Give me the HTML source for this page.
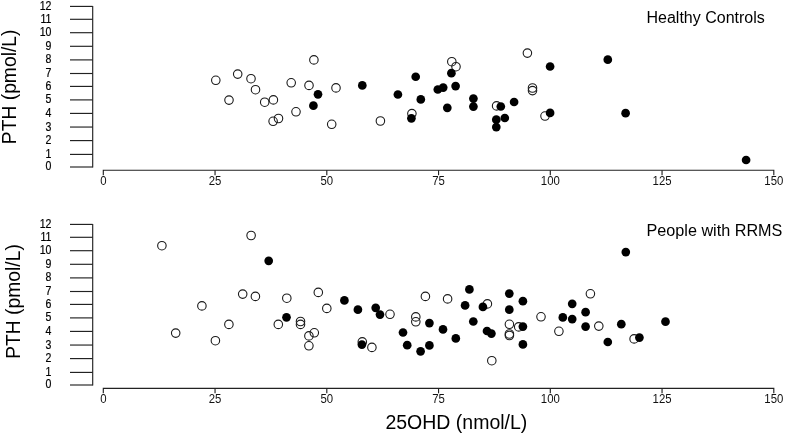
<!DOCTYPE html>
<html><head><meta charset="utf-8"><title>PTH vs 25OHD</title>
<style>
html,body{margin:0;padding:0;background:#fff;}
body{width:785px;height:435px;overflow:hidden;}
svg{display:block;font-family:"Liberation Sans",sans-serif;}
.ax path{stroke:#222;stroke-width:1.15;fill:none;}
.yl text{font-size:12px;fill:#000;stroke:#000;stroke-width:0.2;}
.xl text{font-size:12px;fill:#111;}
.op circle{fill:none;stroke:#1a1a1a;stroke-width:1.1;}
.fi circle{fill:#000;}
.ttl{font-size:16px;fill:#000;}
.axt{font-size:19.3px;fill:#000;}
</style></head><body>
<svg width="785" height="435" viewBox="0 0 785 435">
<rect width="785" height="435" fill="#fff"/>
<g class="ax">
<path d="M92.7 5.90V167.50" />
<path d="M70 167.00H92.7" />
<path d="M70 154.40H92.7" />
<path d="M70 140.60H92.7" />
<path d="M70 127.05H92.7" />
<path d="M70 113.40H92.7" />
<path d="M70 99.90H92.7" />
<path d="M70 86.40H92.7" />
<path d="M70 73.50H92.7" />
<path d="M70 59.90H92.7" />
<path d="M70 46.30H92.7" />
<path d="M70 32.70H92.7" />
<path d="M70 19.30H92.7" />
<path d="M70 6.40H92.7" />
<path d="M103.3 175.20V170.2H773.80V175.20" fill="none"/>
<path d="M215.05 170.2v5" />
<path d="M326.80 170.2v5" />
<path d="M438.55 170.2v5" />
<path d="M550.30 170.2v5" />
<path d="M662.05 170.2v5" />
<path d="M92.7 223.90V385.50" />
<path d="M70 385.00H92.7" />
<path d="M70 372.40H92.7" />
<path d="M70 358.60H92.7" />
<path d="M70 345.05H92.7" />
<path d="M70 331.40H92.7" />
<path d="M70 317.90H92.7" />
<path d="M70 304.40H92.7" />
<path d="M70 291.50H92.7" />
<path d="M70 277.90H92.7" />
<path d="M70 264.30H92.7" />
<path d="M70 250.70H92.7" />
<path d="M70 237.30H92.7" />
<path d="M70 224.40H92.7" />
<path d="M103.3 393.30V388.3H773.80V393.30" fill="none"/>
<path d="M215.05 388.3v5" />
<path d="M326.80 388.3v5" />
<path d="M438.55 388.3v5" />
<path d="M550.30 388.3v5" />
<path d="M662.05 388.3v5" />
</g>
<g class="yl">
<text transform="translate(51.5 170.45) scale(0.88 1)" text-anchor="end">0</text>
<text transform="translate(51.5 157.85) scale(0.88 1)" text-anchor="end">1</text>
<text transform="translate(51.5 144.05) scale(0.88 1)" text-anchor="end">2</text>
<text transform="translate(51.5 130.50) scale(0.88 1)" text-anchor="end">3</text>
<text transform="translate(51.5 116.85) scale(0.88 1)" text-anchor="end">4</text>
<text transform="translate(51.5 103.35) scale(0.88 1)" text-anchor="end">5</text>
<text transform="translate(51.5 89.85) scale(0.88 1)" text-anchor="end">6</text>
<text transform="translate(51.5 76.95) scale(0.88 1)" text-anchor="end">7</text>
<text transform="translate(51.5 63.35) scale(0.88 1)" text-anchor="end">8</text>
<text transform="translate(51.5 49.75) scale(0.88 1)" text-anchor="end">9</text>
<text transform="translate(51.5 36.15) scale(0.88 1)" text-anchor="end">10</text>
<text transform="translate(51.5 22.75) scale(0.88 1)" text-anchor="end">11</text>
<text transform="translate(51.5 9.85) scale(0.88 1)" text-anchor="end">12</text>
<text transform="translate(51.5 388.45) scale(0.88 1)" text-anchor="end">0</text>
<text transform="translate(51.5 375.85) scale(0.88 1)" text-anchor="end">1</text>
<text transform="translate(51.5 362.05) scale(0.88 1)" text-anchor="end">2</text>
<text transform="translate(51.5 348.50) scale(0.88 1)" text-anchor="end">3</text>
<text transform="translate(51.5 334.85) scale(0.88 1)" text-anchor="end">4</text>
<text transform="translate(51.5 321.35) scale(0.88 1)" text-anchor="end">5</text>
<text transform="translate(51.5 307.85) scale(0.88 1)" text-anchor="end">6</text>
<text transform="translate(51.5 294.95) scale(0.88 1)" text-anchor="end">7</text>
<text transform="translate(51.5 281.35) scale(0.88 1)" text-anchor="end">8</text>
<text transform="translate(51.5 267.75) scale(0.88 1)" text-anchor="end">9</text>
<text transform="translate(51.5 254.15) scale(0.88 1)" text-anchor="end">10</text>
<text transform="translate(51.5 240.75) scale(0.88 1)" text-anchor="end">11</text>
<text transform="translate(51.5 227.85) scale(0.88 1)" text-anchor="end">12</text>
</g>
<g class="xl">
<text transform="translate(103.30 184.80) scale(0.95 1)" text-anchor="middle">0</text>
<text transform="translate(215.05 184.80) scale(0.95 1)" text-anchor="middle">25</text>
<text transform="translate(326.80 184.80) scale(0.95 1)" text-anchor="middle">50</text>
<text transform="translate(438.55 184.80) scale(0.95 1)" text-anchor="middle">75</text>
<text transform="translate(550.30 184.80) scale(0.95 1)" text-anchor="middle">100</text>
<text transform="translate(662.05 184.80) scale(0.95 1)" text-anchor="middle">125</text>
<text transform="translate(773.80 184.80) scale(0.95 1)" text-anchor="middle">150</text>
<text transform="translate(103.30 402.90) scale(0.95 1)" text-anchor="middle">0</text>
<text transform="translate(215.05 402.90) scale(0.95 1)" text-anchor="middle">25</text>
<text transform="translate(326.80 402.90) scale(0.95 1)" text-anchor="middle">50</text>
<text transform="translate(438.55 402.90) scale(0.95 1)" text-anchor="middle">75</text>
<text transform="translate(550.30 402.90) scale(0.95 1)" text-anchor="middle">100</text>
<text transform="translate(662.05 402.90) scale(0.95 1)" text-anchor="middle">125</text>
<text transform="translate(773.80 402.90) scale(0.95 1)" text-anchor="middle">150</text>
</g>
<g class="op">
<circle cx="215.8" cy="80.3" r="4.25"/>
<circle cx="237.7" cy="74.1" r="4.25"/>
<circle cx="251" cy="78.7" r="4.25"/>
<circle cx="255.5" cy="89.7" r="4.25"/>
<circle cx="229" cy="100.1" r="4.25"/>
<circle cx="264.7" cy="102.2" r="4.25"/>
<circle cx="273.4" cy="99.9" r="4.25"/>
<circle cx="273.1" cy="121.3" r="4.25"/>
<circle cx="278.5" cy="118.5" r="4.25"/>
<circle cx="291.2" cy="82.8" r="4.25"/>
<circle cx="296" cy="111.8" r="4.25"/>
<circle cx="313.9" cy="59.9" r="4.25"/>
<circle cx="309" cy="85.4" r="4.25"/>
<circle cx="336" cy="87.9" r="4.25"/>
<circle cx="331.7" cy="124.3" r="4.25"/>
<circle cx="380.4" cy="121" r="4.25"/>
<circle cx="451.8" cy="61.7" r="4.25"/>
<circle cx="456" cy="66.7" r="4.25"/>
<circle cx="411.9" cy="113.6" r="4.25"/>
<circle cx="527.4" cy="53.1" r="4.25"/>
<circle cx="532.5" cy="88.0" r="4.25"/>
<circle cx="532.5" cy="90.6" r="4.25"/>
<circle cx="496.6" cy="105.9" r="4.25"/>
<circle cx="545" cy="116.05" r="4.25"/>
<circle cx="161.9" cy="245.7" r="4.25"/>
<circle cx="251.1" cy="235.5" r="4.25"/>
<circle cx="242.7" cy="294.1" r="4.25"/>
<circle cx="255.4" cy="296.4" r="4.25"/>
<circle cx="201.9" cy="305.9" r="4.25"/>
<circle cx="286.8" cy="298.2" r="4.25"/>
<circle cx="318.3" cy="292.4" r="4.25"/>
<circle cx="326.8" cy="308.4" r="4.25"/>
<circle cx="228.9" cy="324.4" r="4.25"/>
<circle cx="278.3" cy="324.4" r="4.25"/>
<circle cx="300.5" cy="321.5" r="4.25"/>
<circle cx="300.5" cy="324.4" r="4.25"/>
<circle cx="175.7" cy="333.1" r="4.25"/>
<circle cx="215.4" cy="340.7" r="4.25"/>
<circle cx="314.3" cy="332.8" r="4.25"/>
<circle cx="308.9" cy="335.9" r="4.25"/>
<circle cx="308.9" cy="345.8" r="4.25"/>
<circle cx="390" cy="314.3" r="4.25"/>
<circle cx="415.8" cy="316.9" r="4.25"/>
<circle cx="415.8" cy="321.8" r="4.25"/>
<circle cx="425.4" cy="296.4" r="4.25"/>
<circle cx="362.3" cy="341.9" r="4.25"/>
<circle cx="371.9" cy="347.4" r="4.25"/>
<circle cx="447.6" cy="298.9" r="4.25"/>
<circle cx="487.4" cy="303.9" r="4.25"/>
<circle cx="509.4" cy="324.3" r="4.25"/>
<circle cx="509.4" cy="334.0" r="4.25"/>
<circle cx="509.4" cy="335.5" r="4.25"/>
<circle cx="491.8" cy="360.7" r="4.25"/>
<circle cx="541" cy="316.8" r="4.25"/>
<circle cx="590.4" cy="293.8" r="4.25"/>
<circle cx="518.7" cy="326.9" r="4.25"/>
<circle cx="558.9" cy="331.3" r="4.25"/>
<circle cx="598.8" cy="326.1" r="4.25"/>
<circle cx="634.1" cy="338.9" r="4.25"/>
</g>
<g class="fi">
<circle cx="318" cy="94.3" r="4.35"/>
<circle cx="313.4" cy="105.7" r="4.35"/>
<circle cx="362.3" cy="85.4" r="4.35"/>
<circle cx="397.9" cy="94.5" r="4.35"/>
<circle cx="451.4" cy="73.2" r="4.35"/>
<circle cx="415.7" cy="76.75" r="4.35"/>
<circle cx="437.8" cy="89.5" r="4.35"/>
<circle cx="443.2" cy="87.6" r="4.35"/>
<circle cx="455.6" cy="86.05" r="4.35"/>
<circle cx="420.8" cy="99.4" r="4.35"/>
<circle cx="473.4" cy="98.6" r="4.35"/>
<circle cx="411.4" cy="118.3" r="4.35"/>
<circle cx="447.3" cy="107.8" r="4.35"/>
<circle cx="473.4" cy="106.6" r="4.35"/>
<circle cx="550.1" cy="66.5" r="4.35"/>
<circle cx="500.8" cy="106.5" r="4.35"/>
<circle cx="514.1" cy="102" r="4.35"/>
<circle cx="504.8" cy="118" r="4.35"/>
<circle cx="496.3" cy="119.7" r="4.35"/>
<circle cx="496.3" cy="127.1" r="4.35"/>
<circle cx="550.1" cy="112.9" r="4.35"/>
<circle cx="607.8" cy="59.7" r="4.35"/>
<circle cx="625.6" cy="113.2" r="4.35"/>
<circle cx="746.1" cy="160" r="4.35"/>
<circle cx="268.7" cy="260.8" r="4.35"/>
<circle cx="286.5" cy="317.3" r="4.35"/>
<circle cx="344.4" cy="300.4" r="4.35"/>
<circle cx="357.9" cy="309.7" r="4.35"/>
<circle cx="375.7" cy="307.8" r="4.35"/>
<circle cx="380" cy="314.6" r="4.35"/>
<circle cx="361.9" cy="344.6" r="4.35"/>
<circle cx="403" cy="332.5" r="4.35"/>
<circle cx="407.2" cy="345.2" r="4.35"/>
<circle cx="420.6" cy="351.3" r="4.35"/>
<circle cx="469.4" cy="289.4" r="4.35"/>
<circle cx="465.1" cy="305.4" r="4.35"/>
<circle cx="482.9" cy="306.9" r="4.35"/>
<circle cx="509.3" cy="293.6" r="4.35"/>
<circle cx="509.3" cy="309.7" r="4.35"/>
<circle cx="429.4" cy="323.1" r="4.35"/>
<circle cx="443" cy="329.4" r="4.35"/>
<circle cx="455.8" cy="338.4" r="4.35"/>
<circle cx="429.4" cy="345.4" r="4.35"/>
<circle cx="473.3" cy="321.5" r="4.35"/>
<circle cx="487" cy="331" r="4.35"/>
<circle cx="491.4" cy="333.6" r="4.35"/>
<circle cx="522.9" cy="301.2" r="4.35"/>
<circle cx="562.8" cy="317.4" r="4.35"/>
<circle cx="572.2" cy="319.1" r="4.35"/>
<circle cx="572.2" cy="303.8" r="4.35"/>
<circle cx="585.6" cy="312.2" r="4.35"/>
<circle cx="522.9" cy="326.6" r="4.35"/>
<circle cx="522.9" cy="344.4" r="4.35"/>
<circle cx="585.6" cy="326.6" r="4.35"/>
<circle cx="621.3" cy="324.2" r="4.35"/>
<circle cx="607.8" cy="342.0" r="4.35"/>
<circle cx="639.4" cy="337.6" r="4.35"/>
<circle cx="665.5" cy="321.7" r="4.35"/>
<circle cx="625.8" cy="252.1" r="4.35"/>
</g>
<text class="ttl" x="646.5" y="23.1">Healthy Controls</text>
<text class="ttl" x="646.5" y="235.7" style="font-size:16.2px">People with RRMS</text>
<text class="axt" transform="translate(15.6 144.2) rotate(-90)">PTH (pmol/L)</text>
<text class="axt" transform="translate(19.6 358.8) rotate(-90)">PTH (pmol/L)</text>
<text class="axt" x="385.4" y="428.8" style="font-size:19.5px">25OHD (nmol/L)</text>
</svg>
</body></html>
